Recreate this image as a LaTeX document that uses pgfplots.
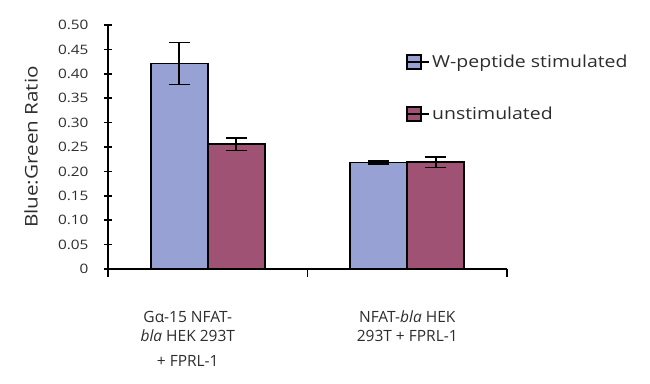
\documentclass[border=0pt]{standalone}
\usepackage{pgfplots}
\pgfplotsset{compat=1.18}
\usepackage{fontspec}
\setmainfont{Open Sans}
\newfontfamily\wide{Open Sans}[FakeStretch=1.18]
\definecolor{cblue}{RGB}{152,161,212}
\definecolor{cred}{RGB}{160,82,116}
\definecolor{ctext}{RGB}{45,45,45}
\setlength{\tabcolsep}{0pt}
\pgfplotsset{myerr/.style={error bars/.cd, y dir=both, y explicit,
  error bar style={line width=1.6pt, black},
  error mark options={rotate=90, line width=1.6pt, mark size=10.5pt, black}}}
\begin{document}
\begin{tikzpicture}[x=1pt,y=1pt]
\useasboundingbox (-108,-114) rectangle (542,269);
\begin{axis}[
  at={(0,0)}, anchor=south west,
  scale only axis, width=399pt, height=244pt,
  xmin=0, xmax=2, ymin=0, ymax=0.5,
  axis lines*=left,
  axis line style={line width=1.6pt, black},
  ybar=0pt, bar width=57pt,
  xtick={0,1,2},
  x tick label as interval,
  xticklabels={{\begin{tabular}{c}Gα-15 NFAT-\\\textit{bla} HEK 293T\\[5pt]+ FPRL-1\end{tabular}\hspace*{40pt}},{\begin{tabular}{c}NFAT-\textit{bla} HEK\\293T + FPRL-1\end{tabular}}},
  xticklabel style={font=\fontsize{15.5}{19.5}\selectfont, text=ctext, yshift=-32pt},
  ytick={0,0.05,0.10,0.15,0.20,0.25,0.30,0.35,0.40,0.45,0.50},
  yticklabels={0,0.05,0.10,0.15,0.20,0.25,0.30,0.35,0.40,0.45,0.50},
  yticklabel style={font=\wide\fontsize{13}{15}\selectfont, text=ctext, xshift=-12pt},
  tick align=center,
  major tick length=8pt,
  tick style={line width=1.6pt, black},
  x tick style={yshift=-4pt},
  ylabel={Blue:Green Ratio},
  ylabel style={font=\wide\fontsize{17.5}{20}\selectfont, text=ctext,
    at={(rel axis cs:0,0.5)}, anchor=center, yshift=77pt},
  legend style={draw=none, fill=none, at={(0.74,0.895)}, anchor=north west,
    font=\wide\fontsize{16.5}{19}\selectfont, text=ctext, row sep=34pt,
    legend cell align=left},
  legend image code/.code={\draw[#1, line width=1.8pt, draw=black] (0pt,-7pt) rectangle (14pt,7pt); \path (0pt,0pt) -- (22pt,0pt);},
]
\addplot[fill=cblue, draw=black, line width=1.6pt, myerr] coordinates {(0.5,0.421) +- (0,0.043) (1.5,0.218) +- (0,0.003)};
\addplot[fill=cred, draw=black, line width=1.6pt, myerr] coordinates {(0.5,0.256) +- (0,0.013) (1.5,0.219) +- (0,0.011)};
\legend{W-peptide stimulated, unstimulated}
\end{axis}
\end{tikzpicture}
\end{document}
